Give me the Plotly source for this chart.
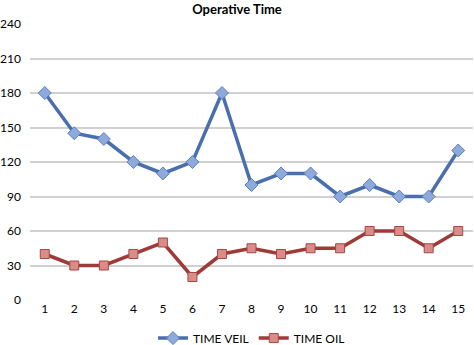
import plotly.graph_objects as go

categories = [str(i) for i in range(1, 16)]
time_veil = [180, 145, 140, 120, 110, 120, 180, 100, 110, 110, 90, 100, 90, 90, 130]
time_oil = [40, 30, 30, 40, 50, 20, 40, 45, 40, 45, 45, 60, 60, 45, 60]
y_ticks = [0, 30, 60, 90, 120, 150, 180, 210, 240]

fig = go.Figure()
fig.add_trace(go.Scatter(
    x=categories, y=time_veil, name="TIME VEIL", mode="lines+markers",
    line=dict(color="#4A6FAE", width=3.5),
    marker=dict(symbol="diamond", size=10, color="#8EAADB", line=dict(color="#5B7FC0", width=1)),
))
fig.add_trace(go.Scatter(
    x=categories, y=time_oil, name="TIME OIL", mode="lines+markers",
    line=dict(color="#9E3B38", width=3.5),
    marker=dict(symbol="square", size=9, color="#D98C89", line=dict(color="#A94743", width=1)),
))

fig.update_layout(
    width=474, height=345,
    margin=dict(l=30, r=1, t=24, b=45, autoexpand=False),
    paper_bgcolor="white", plot_bgcolor="white",
    font=dict(family="Lato, Open Sans, sans-serif", size=12, color="#000000"),
    title=dict(text="<b>Operative Time</b>", x=0.5, xanchor="center", y=0.974, yanchor="middle",
               font=dict(size=13)),
    showlegend=True,
    legend=dict(orientation="h", x=0.5, xanchor="center", y=-0.138, yanchor="middle",
                font=dict(size=12), itemwidth=30, tracegroupgap=0),
    xaxis=dict(type="category", range=[-0.5, 14.5], showgrid=False, showline=False,
               ticks="", tickfont=dict(size=12), zeroline=False),
    yaxis=dict(range=[0, 240], tickvals=y_ticks, showgrid=True, gridcolor="#D0D0D0",
               gridwidth=1.5, zeroline=False, showline=False, ticks="",
               tickfont=dict(size=12), ticklabelstandoff=8),
)

fig.write_html("out.html")
